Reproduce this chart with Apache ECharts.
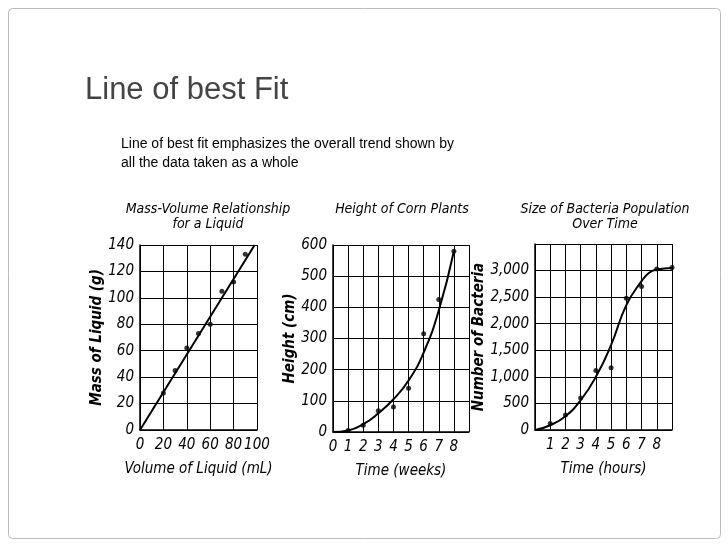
<!DOCTYPE html>
<html><head><meta charset="utf-8">
<script src="https://cdn.jsdelivr.net/npm/echarts@6/dist/echarts.min.js"></script>
<style>html,body{margin:0;background:#fff}#c{width:728px;height:546px}</style>
</head><body><div id="c"></div>
<script>
// measured points and drawn best-fit lines
var massPoints = [[20,28],[30,45],[40,62],[50,73],[60,80],[70,105],[80,112],[90,133]];
var massLine = [[0,0],[98,140]];
var cornPoints = [[1,5],[2,22],[3,68],[4,80],[5,140],[6,315],[7,425],[8,580]];
var cornLine = [[0,0],[1,5],[2,25],[3,60],[4,105],[5,165],[6,255],[7,390],[8,580]];
var bactPoints = [[1,120],[2,280],[3,600],[4,1120],[5,1170],[6,2480],[7,2700],[8,3030],[9,3060]];
var bactLine = [[0,0],[1,90],[2,260],[3,560],[4,1000],[5,1600],[6,2350],[7,2800],[7.5,2960],[8,3020],[9,3050]];

var dom = document.getElementById('c');
var myChart = echarts.init(dom, null, {renderer: 'canvas'});
var F = '"Liberation Sans Narrow", "DejaVu Sans Condensed", sans-serif';
var lab = {color: '#000', fontFamily: F, fontStyle: 'italic', fontSize: 15};
var split = {show: true, lineStyle: {color: '#000', width: 1}};
var axLine = {lineStyle: {color: '#000', width: 1.5}};

function xAx(i, max, interval, name, hideZero) {
    return {gridIndex: i, type: 'value', min: 0, max: max, interval: interval,
        axisLine: axLine, axisTick: {show: false}, splitLine: split,
        axisLabel: Object.assign({}, lab, {formatter: function (v) {
            if (v === max && i > 0) return '';
            if (hideZero && v === 0) return '';
            return v;
        }}),
        name: name, nameLocation: 'middle', nameGap: 32,
        nameTextStyle: Object.assign({}, lab, {fontSize: 15})};
}
function yAx(i, max, interval, name, gap, fmt) {
    return {gridIndex: i, type: 'value', min: 0, max: max, interval: interval,
        axisLine: axLine, axisTick: {show: false}, splitLine: split,
        axisLabel: Object.assign({}, lab, {formatter: fmt, margin: 6}),
        name: name, nameLocation: 'middle', nameGap: gap,
        nameTextStyle: Object.assign({}, lab, {fontSize: 15, fontWeight: 'bold'})};
}
function pts(i, d) {
    return {type: 'scatter', xAxisIndex: i, yAxisIndex: i, data: d, symbolSize: 5, itemStyle: {color: '#000'}};
}
function ln(i, d) {
    return {type: 'line', xAxisIndex: i, yAxisIndex: i, data: d, smooth: true, showSymbol: false,
        lineStyle: {color: '#000', width: 2}};
}
function ttl(x, lines) {
    return {type: 'text', x: x, y: 202, style: {text: lines, fill: '#000', font: 'italic 14px ' + F, align: 'center', lineHeight: 15}};
}

var option = {
    animation: false,
    graphic: [
        {type: 'rect', left: 8, top: 8, shape: {width: 712, height: 530, r: 4}, style: {fill: '#fff', stroke: '#bbb', lineWidth: 1}},
        {type: 'text', left: 85, top: 75, style: {text: 'Line of best Fit', fill: '#444', font: '31px "Liberation Sans", Arial, sans-serif'}},
        {type: 'text', left: 121, top: 135, style: {text: 'Line of best fit emphasizes the overall trend shown by\nall the data taken as a whole', fill: '#000', font: '14px "Liberation Sans", Arial, sans-serif', lineHeight: 19}},
        ttl(208, 'Mass-Volume Relationship\nfor a Liquid'),
        ttl(402, 'Height of Corn Plants'),
        ttl(605, 'Size of Bacteria Population\nOver Time')
    ],
    grid: [
        {left: 140, top: 245, width: 117, height: 185},
        {left: 333, top: 245, width: 136, height: 187},
        {left: 535, top: 244, width: 137, height: 186}
    ],
    xAxis: [
        xAx(0, 100, 20, 'Volume of Liquid (mL)'),
        xAx(1, 9, 1, 'Time (weeks)'),
        xAx(2, 9, 1, 'Time (hours)', true)
    ],
    yAxis: [
        yAx(0, 140, 20, 'Mass of Liquid (g)', 30),
        yAx(1, 600, 100, 'Height (cm)', 33),
        yAx(2, 3500, 500, 'Number of Bacteria', 42, function (v) {
            return v === 3500 ? '' : v.toLocaleString('en-US');
        })
    ],
    series: [
        ln(0, massLine), pts(0, massPoints),
        ln(1, cornLine), pts(1, cornPoints),
        ln(2, bactLine), pts(2, bactPoints)
    ]
};
myChart.setOption(option);
</script></body></html>
